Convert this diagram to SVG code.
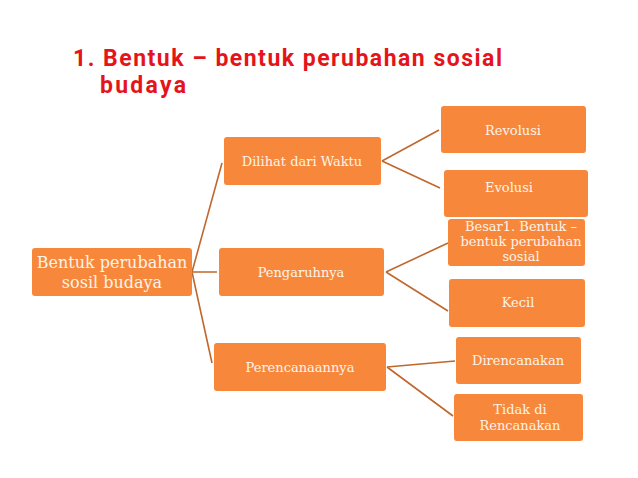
<svg xmlns="http://www.w3.org/2000/svg" width="638" height="478" viewBox="0 0 638 478">
<style>
.box{fill:#f7883b;}
.t{font-family:"DejaVu Serif","Liberation Serif",serif;font-size:13px;fill:#fdf3ea;text-anchor:middle;}
.root{font-size:16px;}
.title{font-family:Roboto,"Liberation Sans",sans-serif;font-weight:bold;font-size:23px;fill:#e5141b;}
.c{stroke:#c0672d;stroke-width:1.6;fill:none;}
</style>
<rect width="638" height="478" fill="#ffffff"/>
<text class="title" x="73" y="66" textLength="429" lengthAdjust="spacing">1. Bentuk – bentuk perubahan sosial</text>
<text class="title" x="100" y="93" textLength="86" lengthAdjust="spacing">budaya</text>
<g id="connectors">
<path class="c" d="M192,272 L222,163 M192,272 L217,272 M192,272 L212,363"/>
<path class="c" d="M382,161 L439,130 M382,161 L440,188"/>
<path class="c" d="M386,272 L448,243 M386,272 L448,311"/>
<path class="c" d="M387,367 L455,361 M387,367 L453,416"/>
</g>
<g id="root"><rect class="box" x="32" y="248" width="160" height="48" rx="3"/>
<text class="t root" x="112" y="268">Bentuk perubahan</text><text class="t root" x="112" y="288">sosil budaya</text></g>
<g id="waktu"><rect class="box" x="224" y="137" width="157" height="48" rx="3"/><text class="t" x="302" y="166">Dilihat dari Waktu</text></g>
<g id="pengaruh"><rect class="box" x="219" y="248" width="165" height="48" rx="3"/><text class="t" x="301" y="277">Pengaruhnya</text></g>
<g id="perencanaan"><rect class="box" x="214" y="343" width="172" height="48" rx="3"/><text class="t" x="300" y="372">Perencanaannya</text></g>
<g id="revolusi"><rect class="box" x="441" y="106" width="145" height="47" rx="3"/><text class="t" x="513" y="135">Revolusi</text></g>
<g id="evolusi"><rect class="box" x="444" y="170" width="144" height="47" rx="3"/><text class="t" x="509" y="192">Evolusi</text></g>
<g id="besar"><rect class="box" x="448" y="219" width="137" height="47" rx="3"/>
<text class="t" x="521" y="231">Besar1. Bentuk –</text><text class="t" x="521" y="246">bentuk perubahan</text><text class="t" x="521" y="261">sosial</text></g>
<g id="kecil"><rect class="box" x="449" y="279" width="136" height="48" rx="3"/><text class="t" x="518" y="307">Kecil</text></g>
<g id="direncanakan"><rect class="box" x="456" y="337" width="125" height="47" rx="3"/><text class="t" x="518" y="365">Direncanakan</text></g>
<g id="tidak"><rect class="box" x="454" y="394" width="129" height="47" rx="3"/><text class="t" x="520" y="414">Tidak di</text><text class="t" x="520" y="430">Rencanakan</text></g>
</svg>
